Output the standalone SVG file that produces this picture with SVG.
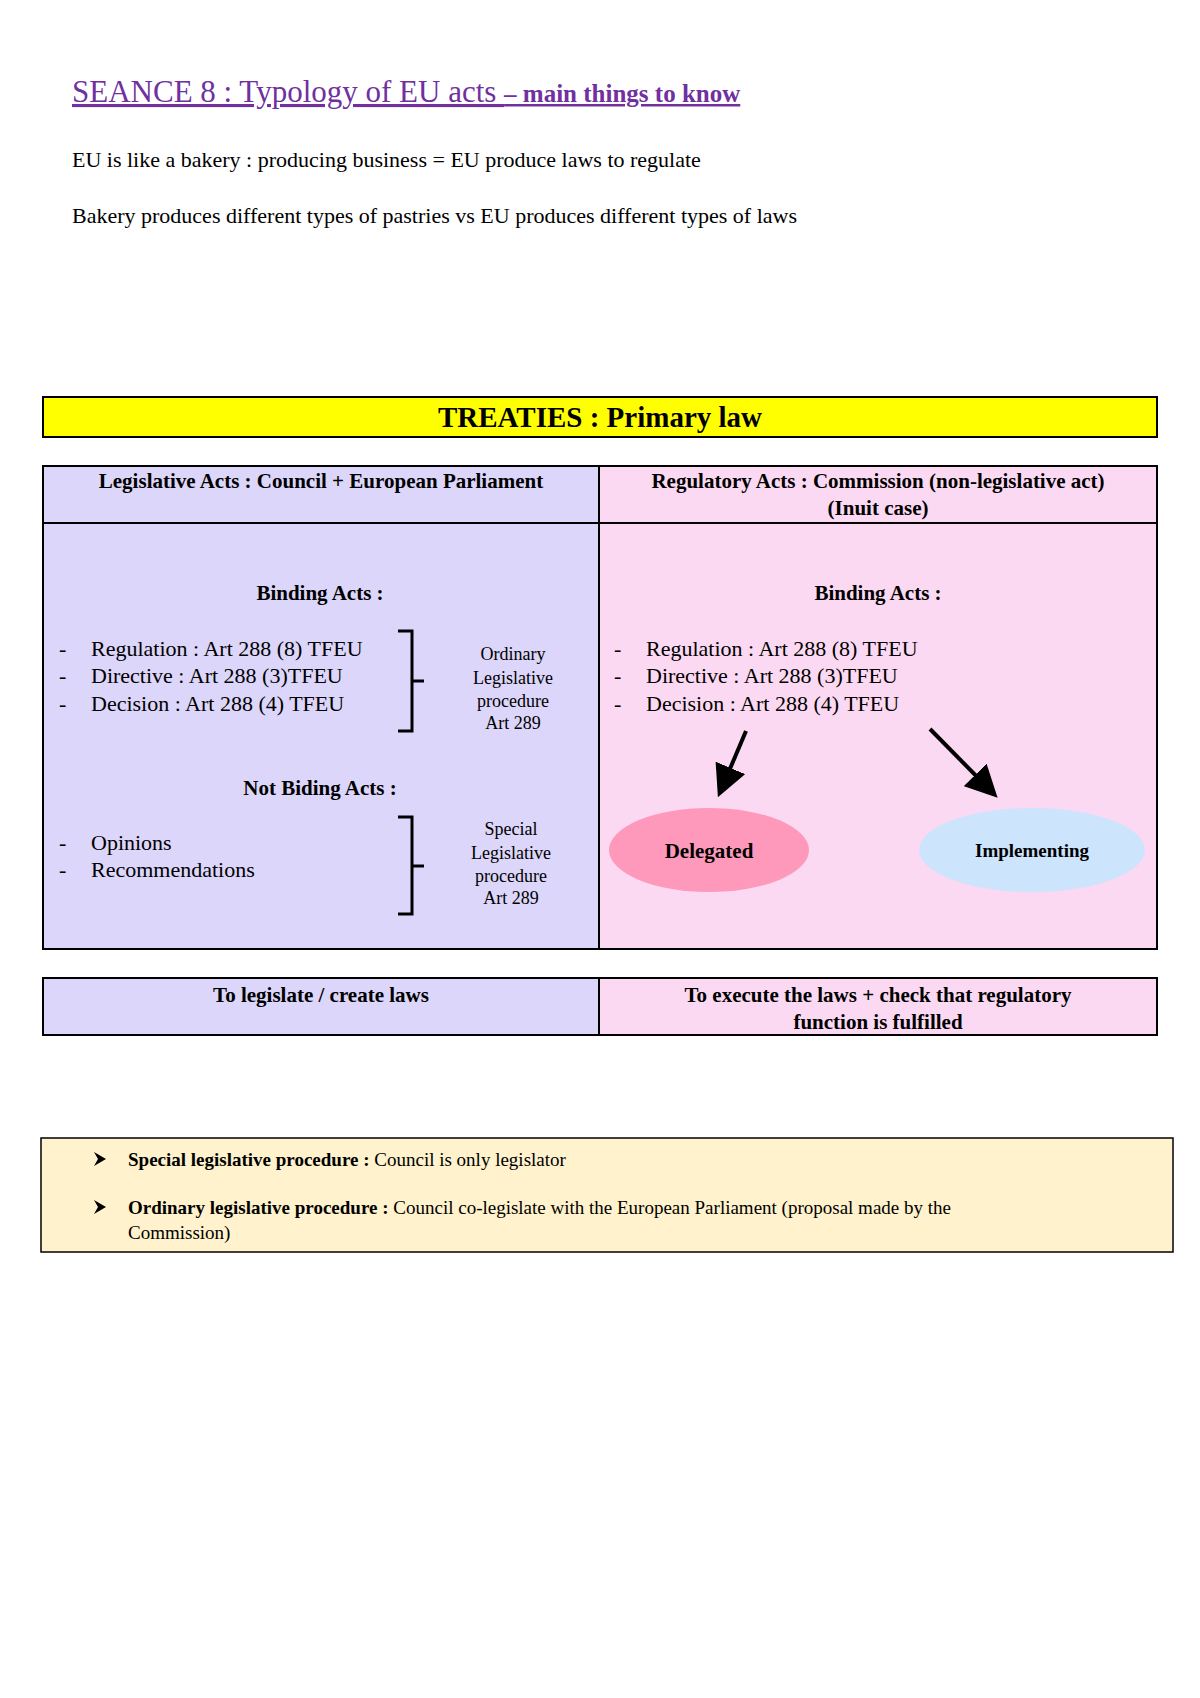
<svg xmlns="http://www.w3.org/2000/svg" width="1200" height="1698" viewBox="0 0 1200 1698">
<style>
text{font-family:"Liberation Serif","Times New Roman",serif;fill:#000}
.b{font-weight:bold}
.n{font-size:22px}
.h{font-size:21px;font-weight:bold}
.s{font-size:18px}
.c{text-anchor:middle}
.ln{stroke:#000;stroke-width:2;fill:none}
</style>
<defs><marker id="ah" markerWidth="8" markerHeight="8" refX="6" refY="4" orient="auto" markerUnits="strokeWidth"><path d="M0,0 L8,4 L0,8 z" fill="#000"/></marker></defs>
<rect width="1200" height="1698" fill="#fff"/>
<g id="title">
<text x="72" y="102" font-size="31" style="fill:#7030a0" text-decoration="underline">SEANCE 8 : Typology of EU acts <tspan font-size="25" font-weight="bold">– main things to know</tspan></text>
<text x="72" y="167" class="n">EU is like a bakery : producing business = EU produce laws to regulate</text>
<text x="72" y="223" class="n">Bakery produces different types of pastries vs EU produces different types of laws</text>
</g>
<g id="treaties">
<rect x="43" y="397" width="1114" height="40" fill="#ffff00" stroke="#000" stroke-width="2"/>
<text x="600" y="427" class="c b" font-size="29">TREATIES : Primary law</text>
</g>
<g id="legislative">
<rect x="43" y="466" width="556" height="483" fill="#dcd6fa" stroke="#000" stroke-width="2"/>
<line x1="43" y1="523" x2="599" y2="523" class="ln"/>
<text x="321" y="488" class="h c">Legislative Acts : Council + European Parliament</text>
<text x="320" y="600" class="h c">Binding Acts :</text>
<text x="59" y="656" class="n">-</text><text x="91" y="656" class="n">Regulation : Art 288 (8) TFEU</text>
<text x="59" y="683" class="n">-</text><text x="91" y="683" class="n">Directive : Art 288 (3)TFEU</text>
<text x="59" y="711" class="n">-</text><text x="91" y="711" class="n">Decision : Art 288 (4) TFEU</text>
<path d="M398,631 H412 V731 H398 M412,681 H424" stroke="#000" stroke-width="3" fill="none"/>
<text x="513" y="660" class="s c">Ordinary</text><text x="513" y="684" class="s c">Legislative</text><text x="513" y="707" class="s c">procedure</text><text x="513" y="729" class="s c">Art 289</text>
<text x="320" y="795" class="h c">Not Biding Acts :</text>
<text x="59" y="850" class="n">-</text><text x="91" y="850" class="n">Opinions</text>
<text x="59" y="877" class="n">-</text><text x="91" y="877" class="n">Recommendations</text>
<path d="M398,817 H412 V914 H398 M412,866 H424" stroke="#000" stroke-width="3" fill="none"/>
<text x="511" y="835" class="s c">Special</text><text x="511" y="859" class="s c">Legislative</text><text x="511" y="882" class="s c">procedure</text><text x="511" y="904" class="s c">Art 289</text>
</g>
<g id="regulatory">
<rect x="599" y="466" width="558" height="483" fill="#fcd9f2" stroke="#000" stroke-width="2"/>
<line x1="599" y1="523" x2="1157" y2="523" class="ln"/>
<text x="878" y="488" class="h c">Regulatory Acts : Commission (non-legislative act)</text>
<text x="878" y="515" class="h c">(Inuit case)</text>
<text x="878" y="600" class="h c">Binding Acts :</text>
<text x="614" y="656" class="n">-</text><text x="646" y="656" class="n">Regulation : Art 288 (8) TFEU</text>
<text x="614" y="683" class="n">-</text><text x="646" y="683" class="n">Directive : Art 288 (3)TFEU</text>
<text x="614" y="711" class="n">-</text><text x="646" y="711" class="n">Decision : Art 288 (4) TFEU</text>
</g>
<g id="delegated"><ellipse cx="709" cy="850" rx="100" ry="42" fill="#ff99bb"/><text x="709" y="858" class="h c">Delegated</text></g>
<g id="implementing"><ellipse cx="1032" cy="850" rx="113" ry="42" fill="#cce4fc"/><text x="1032" y="857" class="c b" font-size="19">Implementing</text></g>
<g id="connectors">
<line x1="746" y1="731" x2="721" y2="790" stroke="#000" stroke-width="4" marker-end="url(#ah)"/>
<line x1="930" y1="729" x2="992" y2="792" stroke="#000" stroke-width="4" marker-end="url(#ah)"/>
</g>
<g id="functions">
<rect x="43" y="978" width="556" height="57" fill="#dcd6fa" stroke="#000" stroke-width="2"/>
<rect x="599" y="978" width="558" height="57" fill="#fcd9f2" stroke="#000" stroke-width="2"/>
<text x="321" y="1002" class="h c">To legislate / create laws</text>
<text x="878" y="1002" class="h c">To execute the laws + check that regulatory</text>
<text x="878" y="1029" class="h c">function is fulfilled</text>
</g>
<g id="note">
<rect x="41" y="1138" width="1132" height="114" fill="#fff2cc" stroke="#000" stroke-width="1.5"/>
<path d="M94,1152 L106,1159 L94,1166 L98,1159 z" fill="#000"/>
<path d="M94,1200 L106,1207 L94,1214 L98,1207 z" fill="#000"/>
<text x="128" y="1166" font-size="19"><tspan font-weight="bold">Special legislative procedure :</tspan> Council is only legislator</text>
<text x="128" y="1214" font-size="19"><tspan font-weight="bold">Ordinary legislative procedure :</tspan> Council co-legislate with the European Parliament (proposal made by the</text>
<text x="128" y="1239" font-size="19">Commission)</text>
</g>
</svg>
